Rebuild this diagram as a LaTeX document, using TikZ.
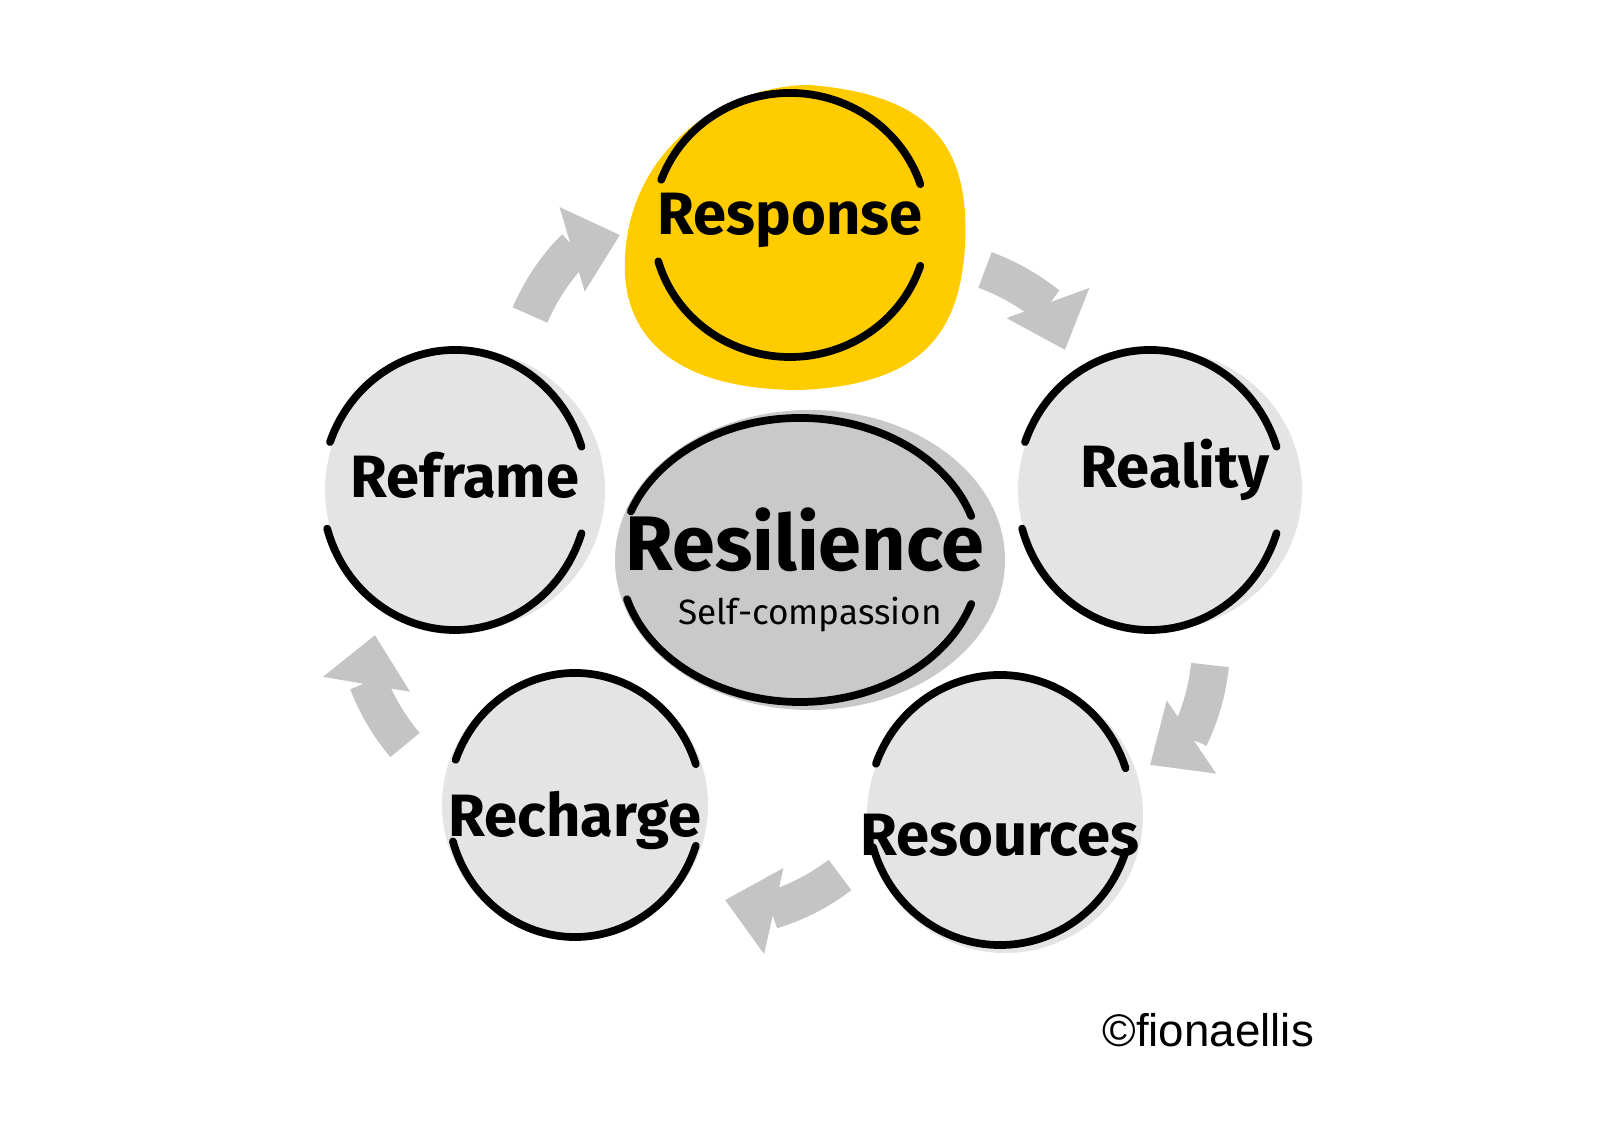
\documentclass[tikz,border=0pt]{standalone}
\usepackage{fontspec}
\setmainfont{Fira Sans}
\newfontfamily\credit{Liberation Sans}
\usetikzlibrary{arrows.meta}
\definecolor{yel}{HTML}{FFCC00}
\definecolor{lg}{HTML}{E4E4E4}
\definecolor{mg}{HTML}{C9C9C9}
\definecolor{ag}{HTML}{C4C4C4}
\tikzset{
  ring/.style={line width=2.2pt, line cap=round},
  lbl/.style={font=\fontsize{17}{20}\selectfont\bfseries},
  flow/.style={draw=ag, line width=0.38cm, -{Triangle[width=0.85cm,length=0.5cm]}}
}
\newcommand{\ringat}[4]{% x y rx ry
  \draw[ring] ([shift={(160:#3 and #4)}]#1,#2) arc[start angle=160,end angle=18,x radius=#3,y radius=#4];
  \draw[ring] ([shift={(196:#3 and #4)}]#1,#2) arc[start angle=196,end angle=342,x radius=#3,y radius=#4];}
\begin{document}
\begin{tikzpicture}
\useasboundingbox (0,0) rectangle (16,11.35);
% fills
\fill[yel] (6.25,8.6) .. controls (6.2,9.8) and (7.2,10.5) .. (8.1,10.5)
  .. controls (9.3,10.4) and (9.7,9.9) .. (9.65,8.9)
  .. controls (9.6,8.0) and (9.2,7.5) .. (8.0,7.45)
  .. controls (7.0,7.45) and (6.3,7.8) .. cycle;
\fill[lg] (4.65,6.45) ellipse (1.4 and 1.4);
\fill[lg] (11.6,6.45) ellipse (1.42 and 1.4);
\fill[lg] (10.05,3.2) ellipse (1.38 and 1.38);
\fill[lg] (5.75,3.3) ellipse (1.33 and 1.33);
\fill[mg] (8.1,5.75) ellipse (1.95 and 1.5);
% rings
\ringat{7.9}{9.1}{1.37}{1.32}
\ringat{4.55}{6.45}{1.33}{1.4}
\ringat{11.5}{6.45}{1.33}{1.4}
\ringat{10}{3.25}{1.32}{1.35}
\ringat{5.75}{3.3}{1.27}{1.32}
\ringat{8.0}{5.75}{1.8}{1.42}
% labels
\node[lbl] (resp) at (7.9,9.15) {Response};
\node[lbl] (refr) at (4.65,6.6) {Reframe};
\node[lbl] (real) at (11.75,6.65) {Reality};
\node[lbl] (reso) at (10.0,3.0) {Resources};
\node[lbl] (rech) at (5.75,3.15) {Recharge};
\node[font=\fontsize{22}{25}\selectfont\bfseries] (resi) at (8.05,5.95) {Resilience};
\node[font=\fontsize{10}{12}\selectfont] (self) at (8.1,5.2) {Self-compassion};
\node[font=\credit\fontsize{13}{15}\selectfont, anchor=west] (cr) at (10.9,1.05) {©fionaellis};
% flow arrows
\coordinate (a1s) at (5.3,8.2); \coordinate (a1e) at (6.2,9.0);
\coordinate (a2s) at (9.85,8.65); \coordinate (a2e) at (10.65,7.85);
\coordinate (a3s) at (12.1,4.7); \coordinate (a3e) at (11.5,3.7);
\coordinate (a4s) at (8.4,2.6); \coordinate (a4e) at (7.25,2.35);
\coordinate (a5s) at (4.05,3.9); \coordinate (a5e) at (3.75,5.0);
\draw[flow] (a1s) to[bend left=25] (a1e);
\draw[flow] (a2s) to[bend left=25] (a2e);
\draw[flow] (a3s) to[bend left=25] (a3e);
\draw[flow] (a4s) to[bend left=25] (a4e);
\draw[flow] (a5s) to[bend left=25] (a5e);
\end{tikzpicture}
\end{document}
